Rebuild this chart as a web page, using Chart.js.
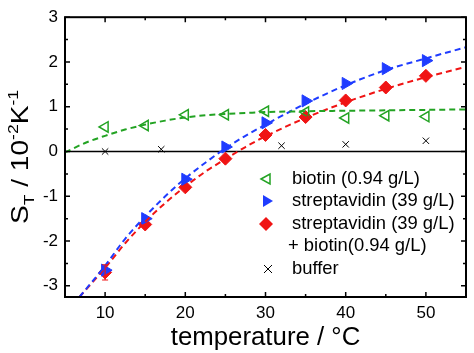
<!DOCTYPE html>
<html>
<head>
<meta charset="utf-8">
<script src="https://cdn.jsdelivr.net/npm/chart.js@4/dist/chart.umd.min.js"></script>
<style>
  html, body { margin: 0; padding: 0; background: #fff; }
  #wrap { width: 474px; height: 353px; }
</style>
</head>
<body>
<div id="wrap"><canvas id="stChart"></canvas></div>
<script>
// measured points
const temps = [10, 15, 20, 25, 30, 35, 40, 45, 50];
const biotin = [0.55, 0.58, 0.82, 0.82, 0.9, 0.88, 0.75, 0.8, 0.78];
const strept = [-2.65, -1.5, -0.62, 0.1, 0.64, 1.13, 1.52, 1.85, 2.03];
const streptBiotin = [-2.7, -1.63, -0.8, -0.16, 0.37, 0.77, 1.14, 1.43, 1.69];
const streptBiotinErr = [0.17, 0, 0, 0, 0, 0, 0, 0, 0];
const bufferT = [10, 17, 32, 40, 50];
const buffer = [0.0, 0.05, 0.13, 0.16, 0.24];

// fit curves
const fitBiotinT = [5, 7.5, 10, 12.5, 15, 17.5, 20, 22.5, 25, 27.5, 30, 35, 40, 45, 50, 55];
const fitBiotin = [-0.02, 0.19, 0.35, 0.49, 0.6, 0.69, 0.76, 0.81, 0.84, 0.86, 0.88, 0.9, 0.91, 0.92, 0.93, 0.94];
const fitT = [6.8, 10, 12.5, 15, 17.5, 20, 22.5, 25, 27.5, 30, 35, 40, 45, 50, 55];
const fitStrept = [-3.25, -2.55, -1.95, -1.45, -1.0, -0.6, -0.25, 0.07, 0.35, 0.6, 1.07, 1.48, 1.82, 2.08, 2.33];
const fitStreptBiotin = [-3.25, -2.6, -2.05, -1.57, -1.15, -0.78, -0.45, -0.17, 0.1, 0.34, 0.75, 1.1, 1.4, 1.66, 1.89];

const xTicks = [10, 20, 30, 40, 50];
const yTicks = [-3, -2, -1, 0, 1, 2, 3];

const legendLabels = ['biotin (0.94 g/L)', 'streptavidin (39 g/L)', 'streptavidin (39 g/L)', '+ biotin(0.94 g/L)', 'buffer'];

const green = '#23a323';
const blue = '#1f3cff';
const red = '#f01414';
const FONT = "'Liberation Sans', Arial, sans-serif";

const pts = (xs, ys) => xs.map((x, i) => ({ x: x, y: ys[i] }));

// frame, inward ticks, zero line, error bars, legend, y title
const decorations = {
    id: 'decorations',
    beforeDatasetsDraw(chart) {
        const { ctx, chartArea: a, scales: { y } } = chart;
        ctx.save();
        ctx.strokeStyle = '#000';
        ctx.lineWidth = 1.5;
        const y0 = y.getPixelForValue(0);
        ctx.beginPath();
        ctx.moveTo(a.left, y0);
        ctx.lineTo(a.right, y0);
        ctx.stroke();
        ctx.restore();
    },
    afterDatasetsDraw(chart) {
        const { ctx, chartArea: a, scales: { x, y } } = chart;
        ctx.save();
        // error bars on red series
        ctx.strokeStyle = red;
        ctx.lineWidth = 1.2;
        temps.forEach((t, i) => {
            const e = streptBiotinErr[i];
            if (!e) return;
            const px = x.getPixelForValue(t);
            const top = y.getPixelForValue(streptBiotin[i] + e);
            const bot = y.getPixelForValue(streptBiotin[i] - e);
            ctx.beginPath();
            ctx.moveTo(px, top); ctx.lineTo(px, bot);
            ctx.moveTo(px - 3, top); ctx.lineTo(px + 3, top);
            ctx.moveTo(px - 3, bot); ctx.lineTo(px + 3, bot);
            ctx.stroke();
        });

        // frame
        ctx.strokeStyle = '#000';
        ctx.lineWidth = 2;
        ctx.strokeRect(a.left, a.top, a.right - a.left, a.bottom - a.top);

        // ticks pointing inward
        ctx.lineWidth = 1.5;
        ctx.beginPath();
        for (let v = 10; v <= 50; v += 5) {
            const px = x.getPixelForValue(v);
            const len = v % 10 === 0 ? 5 : 3;
            ctx.moveTo(px, a.bottom); ctx.lineTo(px, a.bottom - len);
            ctx.moveTo(px, a.top); ctx.lineTo(px, a.top + len);
        }
        for (let v = -3; v <= 3; v += 0.5) {
            const py = y.getPixelForValue(v);
            const len = Number.isInteger(v) ? 5 : 3;
            ctx.moveTo(a.left, py); ctx.lineTo(a.left + len, py);
            ctx.moveTo(a.right, py); ctx.lineTo(a.right - len, py);
        }
        ctx.stroke();

        // legend
        const lx = 267, tx = 292;
        const rows = [179, 201, 224, 246, 269];
        ctx.font = '18.4px ' + FONT;
        ctx.textBaseline = 'middle';
        ctx.fillStyle = '#000';
        ctx.fillText(legendLabels[0], tx, rows[0]);
        ctx.fillText(legendLabels[1], tx, rows[1]);
        ctx.fillText(legendLabels[2], tx, rows[2]);
        ctx.fillText(legendLabels[3], tx - 4, rows[3]);
        ctx.fillText(legendLabels[4], tx, rows[4]);
        // markers
        ctx.lineWidth = 1.5;
        ctx.strokeStyle = green;
        ctx.beginPath();
        ctx.moveTo(lx - 6, rows[0]); ctx.lineTo(lx + 3, rows[0] - 5); ctx.lineTo(lx + 3, rows[0] + 5); ctx.closePath();
        ctx.stroke();
        ctx.fillStyle = blue;
        ctx.beginPath();
        ctx.moveTo(lx + 6, rows[1]); ctx.lineTo(lx - 4, rows[1] - 6); ctx.lineTo(lx - 4, rows[1] + 6); ctx.closePath();
        ctx.fill();
        ctx.fillStyle = red;
        ctx.beginPath();
        ctx.moveTo(lx - 1, rows[2] - 7); ctx.lineTo(lx + 6, rows[2]); ctx.lineTo(lx - 1, rows[2] + 7); ctx.lineTo(lx - 8, rows[2]); ctx.closePath();
        ctx.fill();
        ctx.strokeStyle = '#000';
        ctx.lineWidth = 1;
        ctx.beginPath();
        ctx.moveTo(lx - 3, rows[4] - 4); ctx.lineTo(lx + 5, rows[4] + 4);
        ctx.moveTo(lx - 3, rows[4] + 4); ctx.lineTo(lx + 5, rows[4] - 4);
        ctx.stroke();

        // y title: S_T / 10^-2 K^-1
        ctx.translate(28, 157);
        ctx.rotate(-Math.PI / 2);
        ctx.scale(1.17, 1);
        ctx.fillStyle = '#000';
        ctx.textBaseline = 'alphabetic';
        const big = '24px ' + FONT, small = '15px ' + FONT;
        const parts = [
            ['S', big, 0], ['T', small, 6], [' / 10', big, 0], ['-2', small, -10], ['K', big, 0], ['-1', small, -10]
        ];
        let w = 0;
        parts.forEach(p => { ctx.font = p[1]; w += ctx.measureText(p[0]).width; });
        let cx = -w / 2;
        parts.forEach(p => {
            ctx.font = p[1];
            ctx.fillText(p[0], cx, p[2]);
            cx += ctx.measureText(p[0]).width;
        });
        ctx.restore();
    }
};

new Chart(document.getElementById('stChart'), {
    type: 'scatter',
    data: {
        datasets: [
            { data: pts(fitBiotinT, fitBiotin), showLine: true, pointRadius: 0, borderColor: green, borderWidth: 2, borderDash: [6, 4], cubicInterpolationMode: 'monotone' },
            { data: pts(fitT, fitStrept), showLine: true, pointRadius: 0, borderColor: blue, borderWidth: 2, borderDash: [6, 4], cubicInterpolationMode: 'monotone' },
            { data: pts(fitT, fitStreptBiotin), showLine: true, pointRadius: 0, borderColor: red, borderWidth: 2, borderDash: [6, 4], cubicInterpolationMode: 'monotone' },
            { data: pts(temps, biotin), pointStyle: 'triangle', rotation: -90, pointRadius: 6, backgroundColor: 'rgba(255,255,255,0)', borderColor: green, borderWidth: 1.5 },
            { data: pts(temps, strept), pointStyle: 'triangle', rotation: 90, pointRadius: 7, backgroundColor: blue, borderColor: blue, borderWidth: 1 },
            { data: pts(temps, streptBiotin), pointStyle: 'rectRot', pointRadius: 6.5, backgroundColor: red, borderColor: red, borderWidth: 1 },
            { data: pts(bufferT, buffer), pointStyle: 'crossRot', pointRadius: 4.5, borderColor: '#000', borderWidth: 1 }
        ]
    },
    options: {
        responsive: true,
        maintainAspectRatio: false,
        animation: false,
        layout: { padding: { left: 0, right: 4, top: 13, bottom: 0 } },
        plugins: {
            legend: { display: false },
            tooltip: { enabled: false }
        },
        scales: {
            x: {
                type: 'linear',
                min: 5,
                max: 55,
                afterFit: s => { s.height = 56; },
                afterBuildTicks: s => { s.ticks = xTicks.map(v => ({ value: v })); },
                grid: { display: false, drawTicks: false },
                border: { display: false },
                ticks: { color: '#000', padding: 6, maxRotation: 0, font: { family: FONT, size: 17 } },
                title: { display: true, text: 'temperature / °C', color: '#000', padding: { top: 2, bottom: 0 }, font: { family: FONT, size: 25.8 } }
            },
            y: {
                type: 'linear',
                min: -3.25,
                max: 3,
                afterFit: s => { s.width = 65; },
                afterBuildTicks: s => { s.ticks = yTicks.map(v => ({ value: v })); },
                grid: { display: false, drawTicks: false },
                border: { display: false },
                ticks: { color: '#000', padding: 7, font: { family: FONT, size: 17 } }
            }
        }
    },
    plugins: [decorations]
});
</script>
</body>
</html>
